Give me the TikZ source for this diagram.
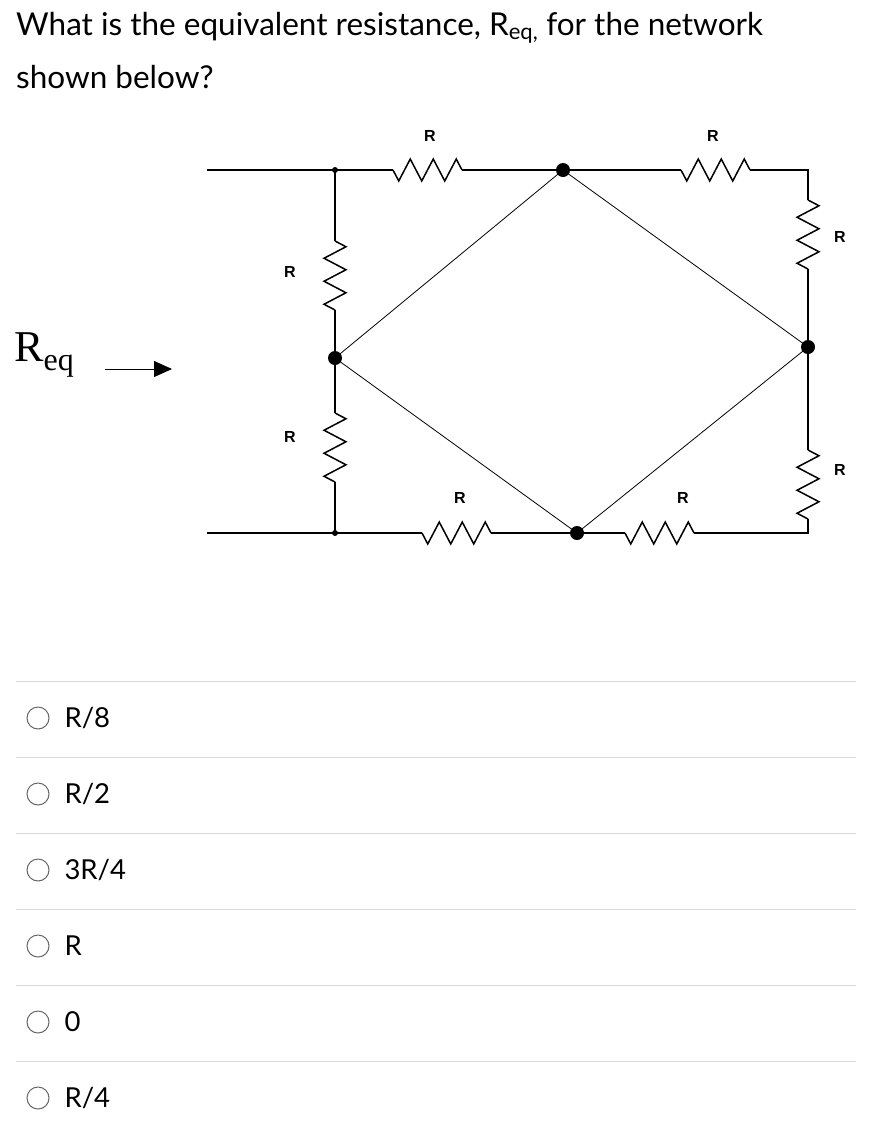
\documentclass[tikz,border=0pt]{standalone}
\usepackage{fontspec}
\setmainfont{Lato}
\newfontfamily\serifr{Liberation Serif}
\newfontfamily\labf{Liberation Sans}
\usetikzlibrary{arrows.meta}
\begin{document}
\begin{tikzpicture}[x=1pt,y=-1pt,
  wire/.style={line width=1.8pt},
  thin/.style={line width=0.8pt},
  res/.style={line width=1.5pt,line join=miter},
  rl/.style={font=\labf\bfseries\fontsize{16}{16}\selectfont},
  dot/.style={circle,fill=black,inner sep=0pt,minimum size=#1},
  sep/.style={draw=black!15,line width=1pt},
  radio/.style={circle,draw=black!60,line width=1pt,minimum size=22,inner sep=0pt},
  opt/.style={anchor=west,font=\fontsize{27.5}{27.5}\selectfont}]
\useasboundingbox (0,0) rectangle (880,1136);
\node[anchor=west,font=\fontsize{31.5}{31.5}\selectfont,inner sep=0] (t1) at (16,28) {What is the equivalent resistance, R\textsubscript{eq,} for the network};
\node[anchor=west,font=\fontsize{31.5}{31.5}\selectfont,inner sep=0] (t2) at (16,77) {shown below?};
% coordinates
\coordinate (TL) at (207,170); \coordinate (BL) at (207,533);
\node[dot=6] (LT) at (335,170) {}; \node[dot=6] (LB) at (335,533) {};
\node[dot=14] (NT) at (563,170) {}; \node[dot=14] (NB) at (577,533) {};
\node[dot=14] (NL) at (335,358) {}; \node[dot=14] (NR) at (808,347) {};
\coordinate (TR) at (808,170); \coordinate (BR) at (808,533);
\def\hz{-- ++(5.75,11) -- ++(11.5,-22) -- ++(11.5,22) -- ++(11.5,-22) -- ++(11.5,22) -- ++(11.5,-22) -- ++(5.75,11)}
\def\vz{-- ++(11,5.75) -- ++(-22,11.5) -- ++(22,11.5) -- ++(-22,11.5) -- ++(22,11.5) -- ++(-22,11.5) -- ++(11,5.75)}
% top
\coordinate (a1) at (393,170); \coordinate (a2) at (462,170);
\coordinate (b1) at (681,170); \coordinate (b2) at (750,170);
\draw[wire] (TL) -- (LT.center) -- (a1); \draw[res] (a1) \hz; \draw[wire] (a2) -- (NT.center) -- (b1);
\draw[res] (b1) \hz; \draw[wire] (b2) -- (TR) -- (808,200);
% bottom
\coordinate (c1) at (422,533); \coordinate (c2) at (491,533);
\coordinate (d1) at (625,533); \coordinate (d2) at (694,533);
\draw[wire] (BL) -- (LB.center) -- (c1); \draw[res] (c1) \hz; \draw[wire] (c2) -- (NB.center) -- (d1);
\draw[res] (d1) \hz; \draw[wire] (d2) -- (BR) -- (808,519);
% left
\coordinate (e1) at (335,241); \coordinate (e2) at (335,310);
\coordinate (f1) at (335,413); \coordinate (f2) at (335,482);
\draw[wire] (LT.center) -- (e1); \draw[res] (e1) \vz; \draw[wire] (e2) -- (NL.center) -- (f1);
\draw[res] (f1) \vz; \draw[wire] (f2) -- (LB.center);
% right
\coordinate (g1) at (808,200); \coordinate (g2) at (808,269);
\coordinate (h1) at (808,450); \coordinate (h2) at (808,519);
\draw[res] (g1) \vz; \draw[wire] (g2) -- (NR.center) -- (h1); \draw[res] (h1) \vz;
% diamond
\draw[thin] (NT.center) -- (NR.center) -- (NB.center) -- (NL.center) -- cycle;
% labels
\node[rl] (r1) at (430,136) {R}; \node[rl] (r2) at (713,136) {R};
\node[rl] (r3) at (290,272) {R}; \node[rl] (r4) at (290,437) {R};
\node[rl] (r5) at (840,237) {R}; \node[rl] (r6) at (840,470) {R};
\node[rl] (r7) at (460,498) {R}; \node[rl] (r8) at (683,498) {R};
% Req
\node[anchor=west,font=\serifr\fontsize{44}{44}\selectfont,inner sep=0] (req) at (14,355) {R\raisebox{-9pt}{\fontsize{32}{32}\selectfont eq}};
\coordinate (ar1) at (105,369); \coordinate (ar2) at (172,369);
\draw[thin,-{Triangle[length=18pt,width=16pt]}] (ar1) -- (ar2);
% options
\foreach \y in {681,757,833,909,985,1061} \draw[sep] (16,\y) -- (856,\y);
\foreach \y/\t/\n in {718/R\slash 8/o1,794/R\slash 2/o2,870/3R\slash 4/o3,946/R/o4,1022/0/o5,1098/R\slash 4/o6}{
  \node[radio] (c\n) at (38,\y) {};
  \node[opt] (\n) at (61,\y) {\t};
}
\end{tikzpicture}
\end{document}
